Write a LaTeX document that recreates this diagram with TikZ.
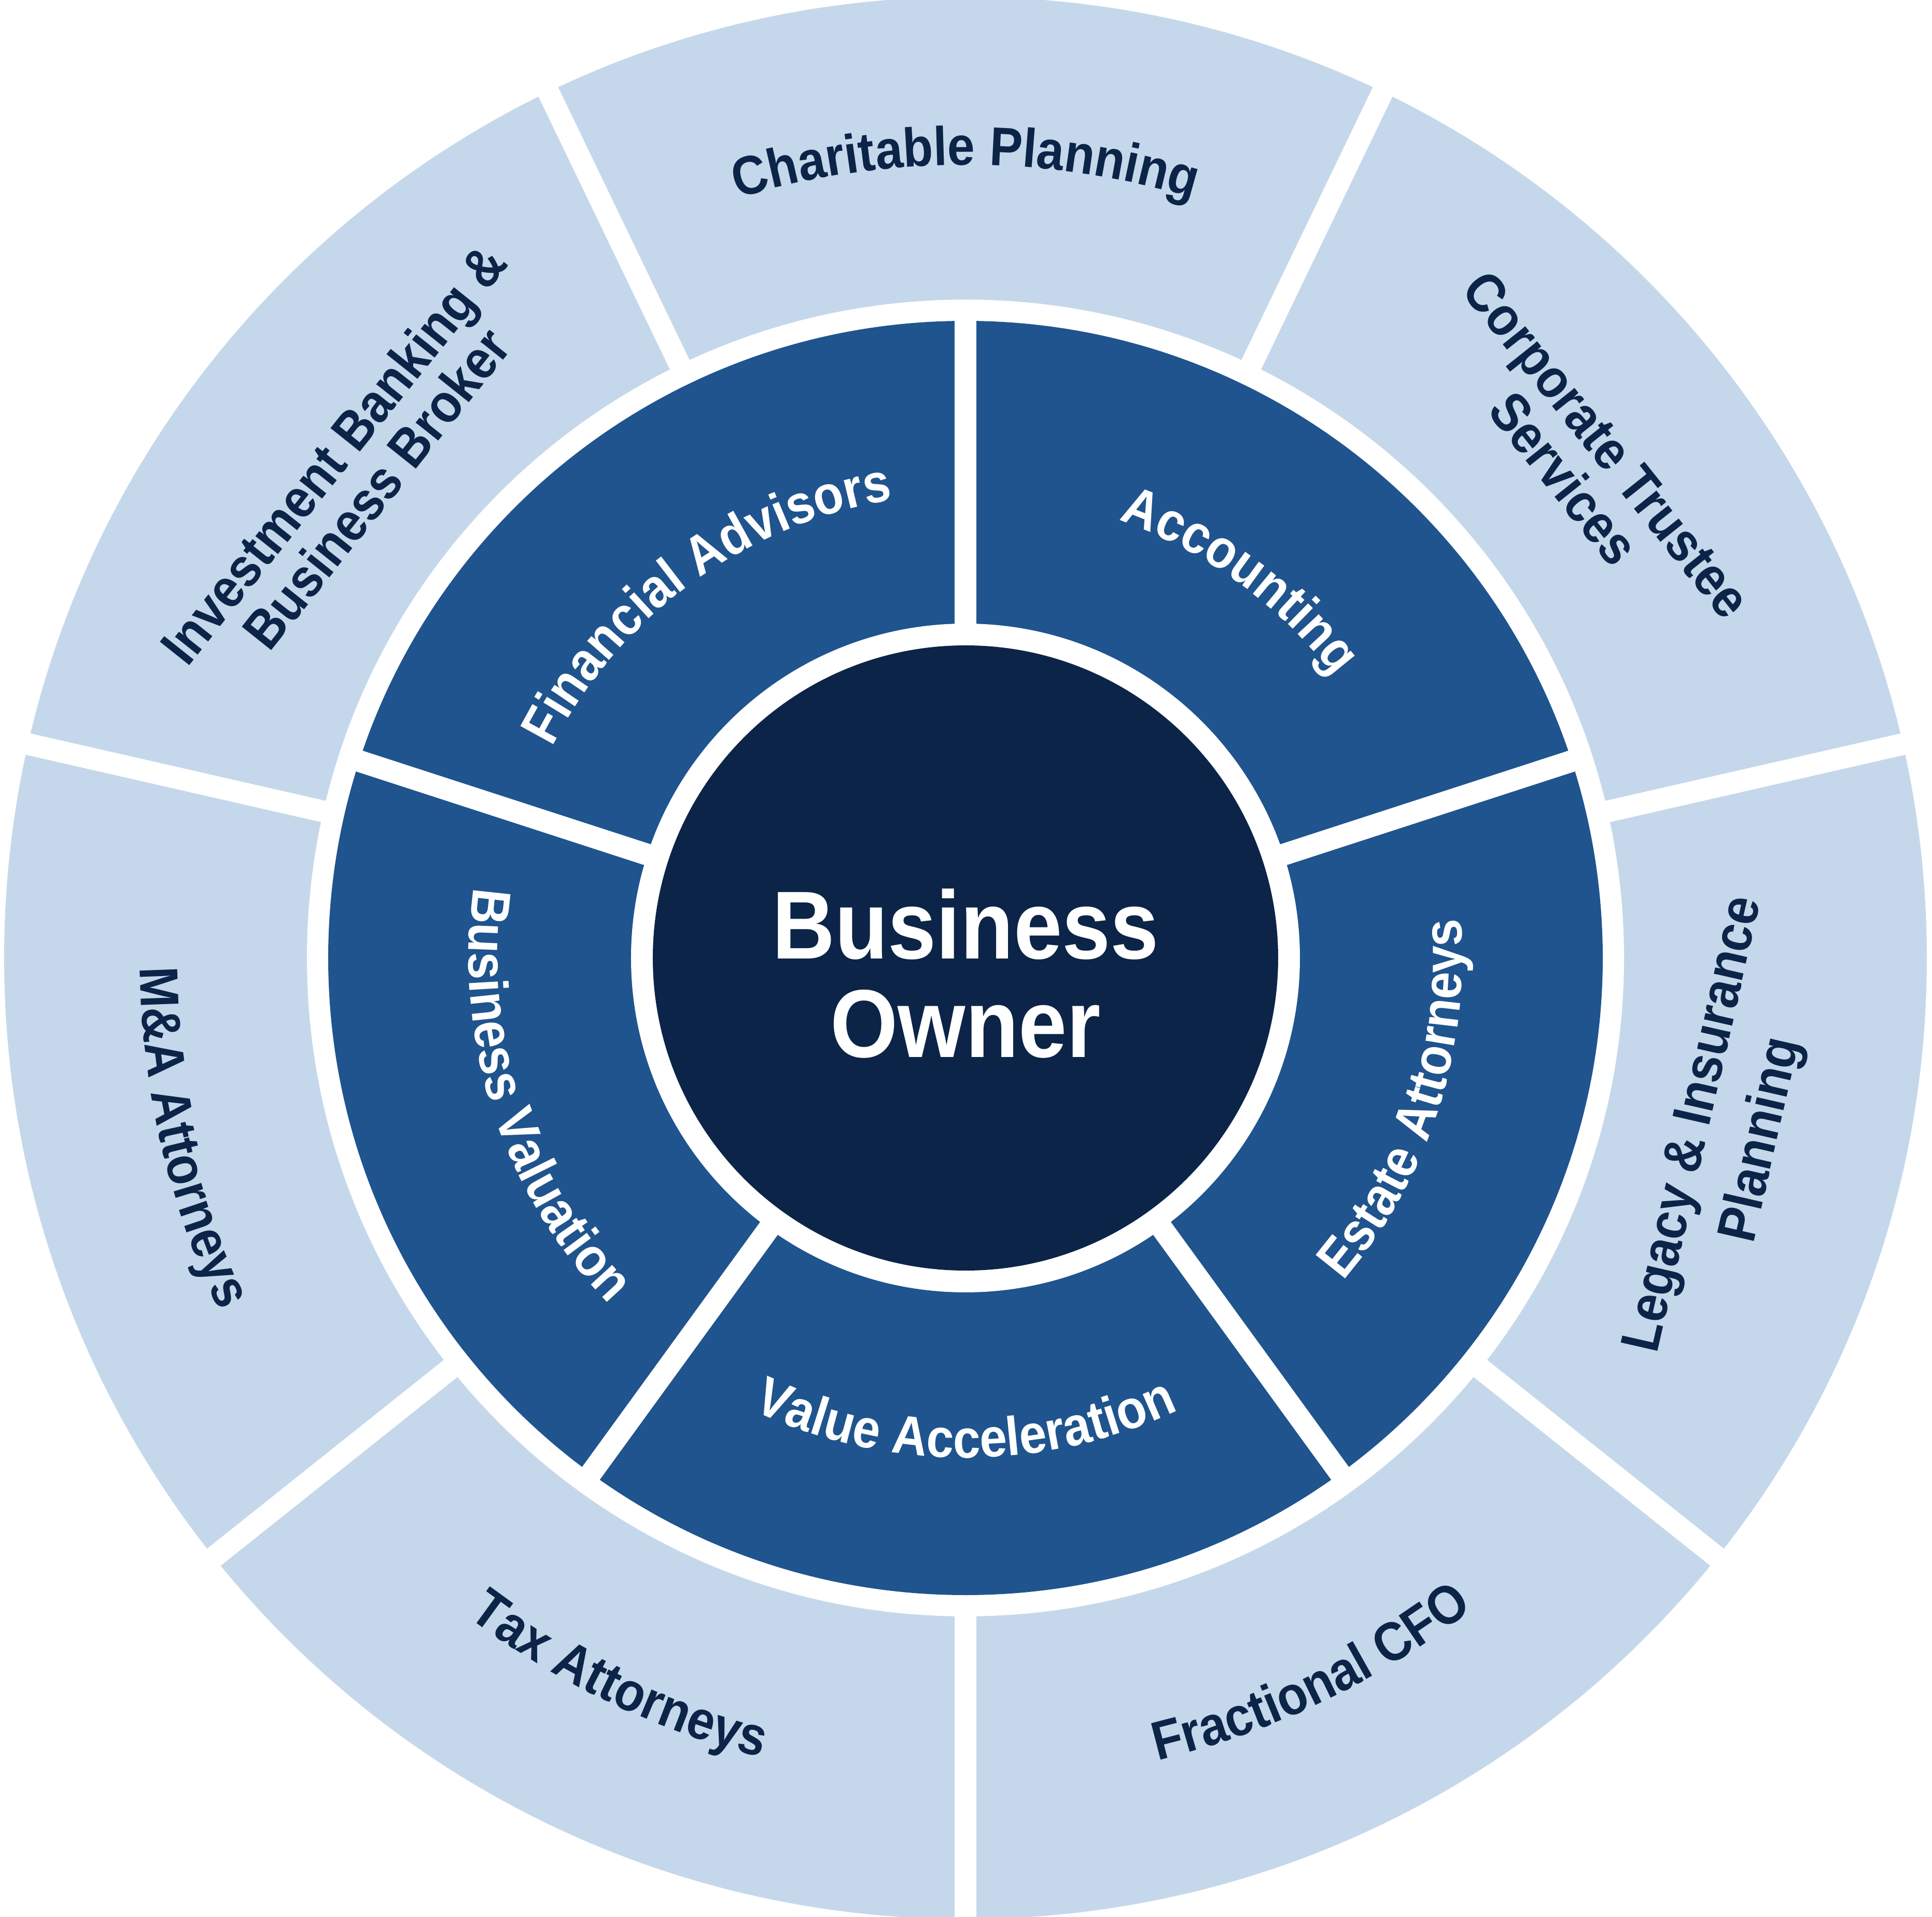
\documentclass[tikz,border=0pt]{standalone}
\usepackage{fontspec}
\setmainfont[FakeStretch=0.9]{Liberation Sans}
\usetikzlibrary{decorations.text}
\definecolor{navy}{HTML}{0C2448}
\definecolor{steel}{HTML}{1F548E}
\definecolor{mist}{HTML}{C5D8EB}
\newcommand{\ringfont}{\fontsize{30}{34}\selectfont\bfseries}

\begin{document}
\begin{tikzpicture}[
  gap/.style={white,line width=4.2mm},
  arctext/.style 2 args={decorate,decoration={text along path,text align=center,text color=#1,text={|\ringfont|#2}}},
  pairlabel/.style={font=\ringfont,text=navy,align=center,inner sep=0pt}]
  \useasboundingbox (-18.62,-18.50) rectangle (18.64,18.48);
  \clip (-18.62,-18.50) rectangle (18.64,18.48);
  \fill[white] (-18.62,-18.50) rectangle (18.64,18.48);

  \fill[mist] (0,0) circle (18.54);
  \fill[white] (0,0) circle (12.70);
  \fill[steel] (0,0) circle (12.29);
  \fill[white] (0,0) circle (6.45);
  \fill[navy] (0,0) circle (6.03);
  \foreach \a in {0,...,6}
    \draw[gap] (270+\a*360/7:12.45) -- (270+\a*360/7:19.2);
  \foreach \a in {18,90,162,234,306}
    \draw[gap] (\a:6.2) -- (\a:12.5);

  \node[font=\fontsize{53}{54}\selectfont\bfseries,text=white,align=center] (owner) at (0,-0.3) {Business\\Owner};

  \path[arctext={white}{Financial Advisors}] (160:8.95) arc[start angle=160,end angle=92,radius=8.95];
  \path[arctext={white}{Accounting}] (88:8.95) arc[start angle=88,end angle=20,radius=8.95];
  \path[arctext={white}{Business Valuation}] (164:9.58) arc[start angle=164,end angle=232,radius=9.58];
  \path[arctext={white}{Value Acceleration}] (236:9.64) arc[start angle=236,end angle=304,radius=9.64];
  \path[arctext={white}{Estate Attorneys}] (308:9.58) arc[start angle=308,end angle=376,radius=9.58];

  \path[arctext={navy}{Charitable Planning}] (114:15.3) arc[start angle=114,end angle=66,radius=15.3];
  \path[arctext={navy}{M{\&}A Attorneys}] (169:15.92) arc[start angle=169,end angle=217,radius=15.92];
  \path[arctext={navy}{Tax Attorneys}] (220.3:15.92) arc[start angle=220.3,end angle=268.3,radius=15.92];
  \path[arctext={navy}{Fractional CFO}] (271.7:15.92) arc[start angle=271.7,end angle=319.7,radius=15.92];

  \node[pairlabel,rotate=51.43] (banking) at (141.43:15.07) {Investment Banking \&\\[-4pt]Business Broker};
  \node[pairlabel,rotate=-51.43] (trustee) at (38.7:15.32) {Corporate Trustee\\[-4pt]Services};
  \node[pairlabel,rotate=77.14] (legacy) at (347.14:15.12) {Legacy \& Insurance\\[4pt]Planning};
\end{tikzpicture}
\end{document}
